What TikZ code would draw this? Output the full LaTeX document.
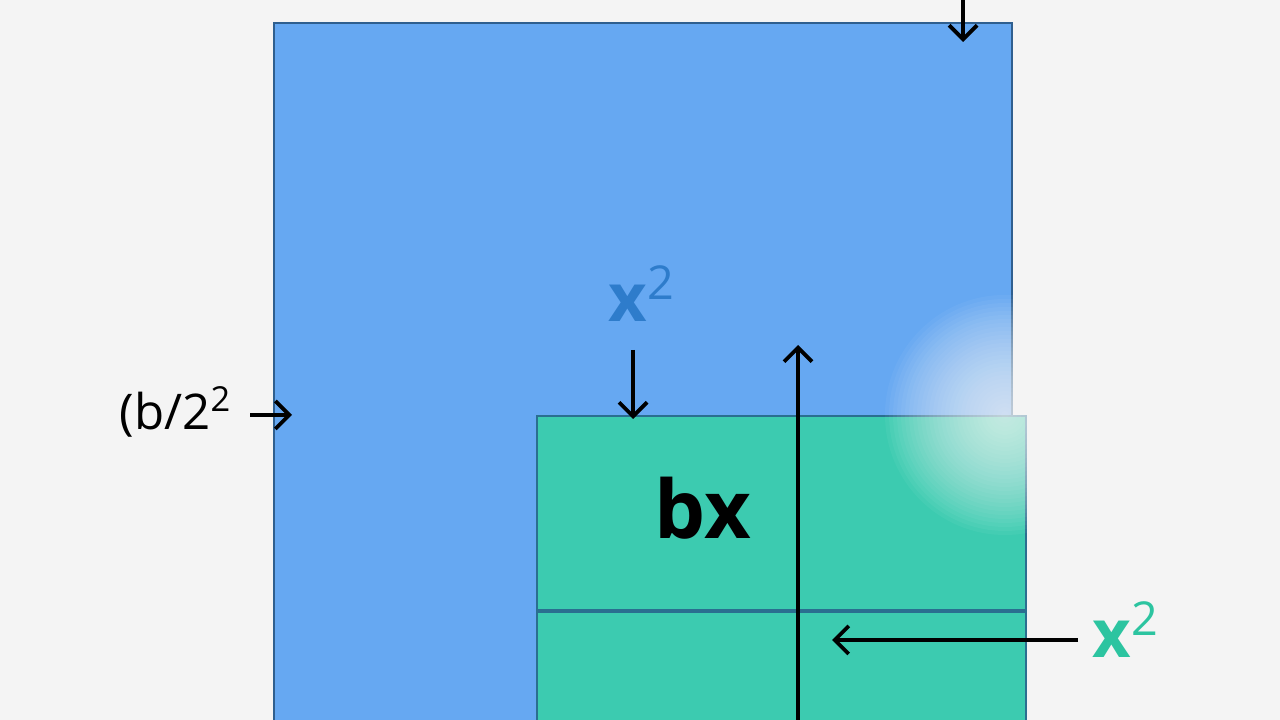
\documentclass[tikz,border=0pt]{standalone}
\usepackage{fontspec}
\setmainfont{Open Sans}
\usetikzlibrary{positioning,arrows.meta}
\definecolor{bgcol}{HTML}{F4F4F4}
\definecolor{bluefill}{HTML}{66A8F2}
\definecolor{blueedge}{HTML}{2F5F8F}
\definecolor{greenfill}{HTML}{3CCBB0}
\definecolor{greenedge}{HTML}{2A6F90}
\definecolor{labelblue}{HTML}{2E7CCB}
\definecolor{labelgreen}{HTML}{2CC4A0}
\tikzset{
  pointer/.style={line width=1.1pt,-{Straight Barb[length=1.4mm,width=2.8mm]},black},
  area/.style={inner sep=0pt,anchor=north west,line width=0.7pt},
}
\begin{document}
\begin{tikzpicture}
            \useasboundingbox (0,0) rectangle (12.8,7.2);
            \clip (0,0) rectangle (12.8,7.2);
            \fill[bgcol] (0,0) rectangle (12.8,7.2);
            % the two areas
            \node[area,draw=blueedge,fill=bluefill,minimum width=7.38cm,minimum height=7.6cm] (big) at (2.73,6.98) {};
            \node[area,draw=greenedge,fill=greenfill,minimum width=4.89cm,minimum height=3.6cm] (part) at (5.36,3.05) {};
            \draw[greenedge,line width=0.9pt] (part.west |- 0,1.09) -- (part.east |- 0,1.09);
            % glow at the corner
            \foreach \r in {1.2,1.16,...,0.02}
                \fill[white,opacity=0.045] (10.05,3.05) circle (\r);
            % labels
            \node[font=\fontsize{14}{17}\selectfont] (bhalf) at (1.76,3.08) {(b/2\textsuperscript{2}};
            \node[font=\fontsize{19}{22}\selectfont\bfseries,text=labelblue] (xtop) at (6.42,4.26) {x\textsuperscript{\mdseries 2}};
            \node[font=\fontsize{23}{27}\selectfont\bfseries] (bx) at (7.03,2.12) {bx};
            \node[font=\fontsize{19}{22}\selectfont\bfseries,text=labelgreen] (xside) at (11.26,0.90) {x\textsuperscript{\mdseries 2}};
            % arrows
            \coordinate (topout) at (9.63,7.3);
            \coordinate (topin) at (9.63,6.78);
            \coordinate (xtopout) at (6.33,3.70);
            \coordinate (xtopin) at (6.33,3.01);
            \coordinate (bhalfout) at (2.50,3.05);
            \coordinate (bhalfin) at (2.92,3.05);
            \coordinate (upout) at (7.98,-0.1);
            \coordinate (upin) at (7.98,3.75);
            \coordinate (sideout) at (10.78,0.80);
            \coordinate (sidein) at (8.32,0.80);
            \draw[pointer] (topout) -- (topin);
            \draw[pointer] (xtopout) -- (xtopin);
            \draw[pointer] (bhalfout) -- (bhalfin);
            \draw[pointer] (upout) -- (upin);
            \draw[pointer] (sideout) -- (sidein);
\end{tikzpicture}
\end{document}
